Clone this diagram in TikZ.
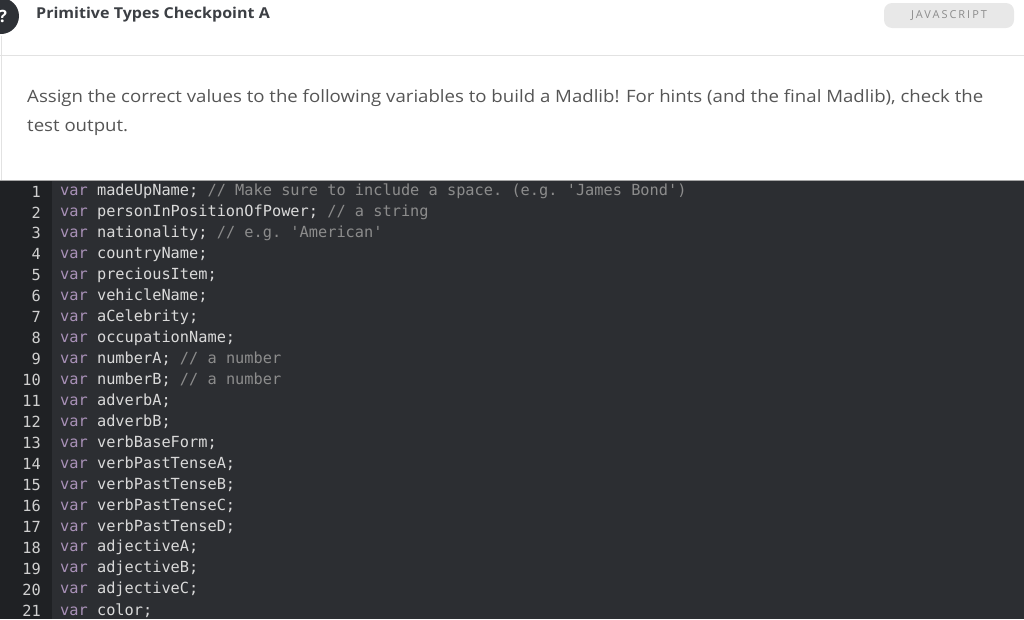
\documentclass[tikz,border=0pt]{standalone}
\usepackage{fontspec}
\setmainfont{Open Sans}
\setmonofont{DejaVu Sans Mono}
\usetikzlibrary{positioning}
\definecolor{pagebg}{HTML}{FFFFFF}
\definecolor{titlegray}{HTML}{3C3F44}
\definecolor{textgray}{HTML}{555555}
\definecolor{rulegray}{HTML}{E2E2E2}
\definecolor{codebg}{HTML}{2C2E32}
\definecolor{gutterbg}{HTML}{1F2124}
\definecolor{numgray}{HTML}{D0D0D0}
\definecolor{kwpurple}{HTML}{A991B8}
\definecolor{identgray}{HTML}{DADADA}
\definecolor{commentgray}{HTML}{8C8C8C}
\definecolor{helpdark}{HTML}{2E3136}
\newcommand{\kw}[1]{\textcolor{kwpurple}{#1}}
\newcommand{\cm}[1]{\textcolor{commentgray}{#1}}
\tikzset{
  codeline/.style={anchor=west, inner sep=0pt, text=identgray, font=\fontsize{15.3}{16}\ttfamily},
  linenum/.style={anchor=east, inner sep=0pt, text=numgray, font=\fontsize{15.3}{16}\ttfamily},
  desc/.style={anchor=west, inner sep=0pt, text=textgray, font=\fontsize{17}{18}\selectfont, xscale=1.095}
}
\begin{document}
\begin{tikzpicture}[x=1pt,y=-1pt]
  \useasboundingbox (0,0) rectangle (1024,619);
  \clip (0,0) rectangle (1024,619);
  % header
  \fill[helpdark] (1,16) circle (18);
  \node[text=white, font=\bfseries\fontsize{17}{18}\selectfont] (help) at (3,16) {?};
  \node[anchor=west, inner sep=0pt, text=titlegray, font=\bfseries\fontsize{15}{16}\selectfont, xscale=1.07] (title) at (36,15) {Primitive Types Checkpoint A};
  \node[fill=black!9, rounded corners=8pt, minimum width=130pt, minimum height=25pt, inner sep=0pt,
        text=black!45, font=\fontsize{11}{12}\selectfont] (lang) at (949,15.5) {\addfontfeature{LetterSpace=18}JAVASCRIPT};
  \draw[rulegray] (0,55) -- (1024,55);
  \draw[rulegray] (1,36) -- (1,180);
  % instructions
  \node[desc] (descA) at (27,98) {Assign the correct values to the following variables to build a Madlib! For hints (and the final Madlib), check the};
  \node[desc] (descB) at (27,128) {test output.};
  \draw[black!35] (0,180) -- (1024,180);
  % editor
  \fill[codebg] (0,181) rectangle (1024,619);
  \fill[gutterbg] (0,181) rectangle (52,619);
  \foreach \n/\code in {
    1/{\kw{var} madeUpName; \cm{// Make sure to include a space. (e.g. 'James Bond')}},
    2/{\kw{var} personInPositionOfPower; \cm{// a string}},
    3/{\kw{var} nationality; \cm{// e.g. 'American'}},
    4/{\kw{var} countryName;},
    5/{\kw{var} preciousItem;},
    6/{\kw{var} vehicleName;},
    7/{\kw{var} aCelebrity;},
    8/{\kw{var} occupationName;},
    9/{\kw{var} numberA; \cm{// a number}},
    10/{\kw{var} numberB; \cm{// a number}},
    11/{\kw{var} adverbA;},
    12/{\kw{var} adverbB;},
    13/{\kw{var} verbBaseForm;},
    14/{\kw{var} verbPastTenseA;},
    15/{\kw{var} verbPastTenseB;},
    16/{\kw{var} verbPastTenseC;},
    17/{\kw{var} verbPastTenseD;},
    18/{\kw{var} adjectiveA;},
    19/{\kw{var} adjectiveB;},
    20/{\kw{var} adjectiveC;},
    21/{\kw{var} color;}} {
    \node[linenum] (num\n) at (41,170.5+20.95*\n) {\n};
    \node[codeline] (line\n) at (60,170.5+20.95*\n) {\code};
  }
\end{tikzpicture}
\end{document}
